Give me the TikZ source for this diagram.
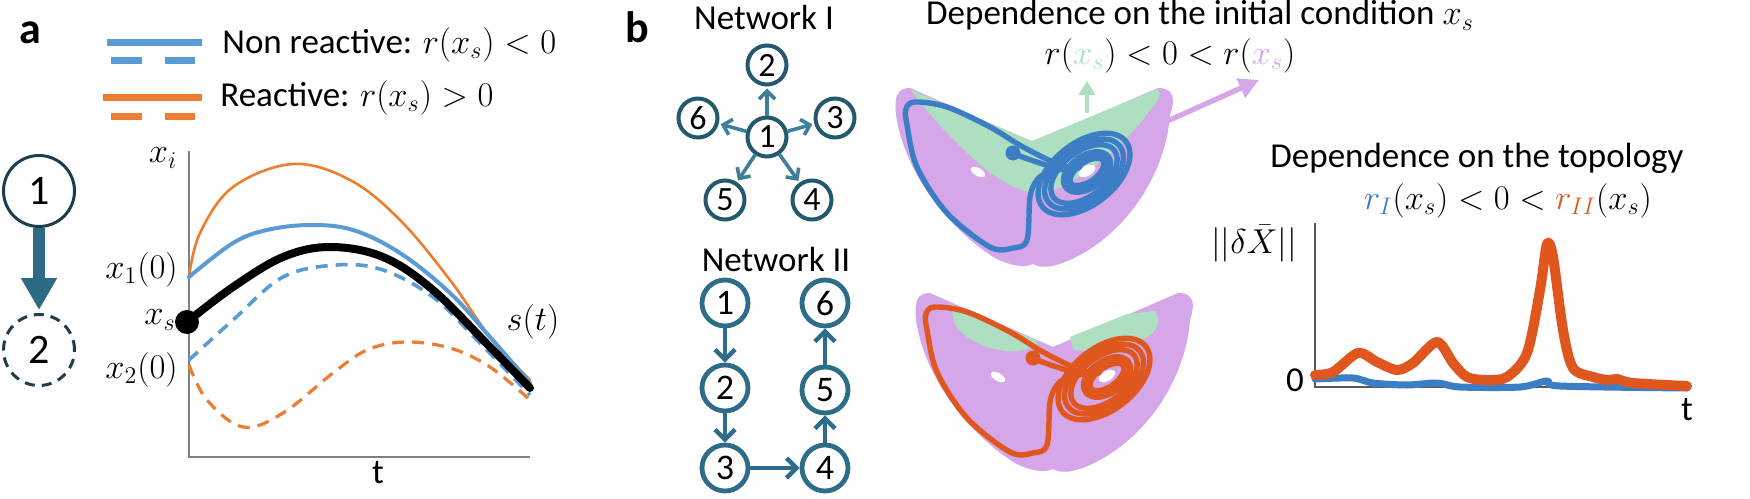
\documentclass[tikz,border=0pt]{standalone}
\usepackage{fontspec}
\setmainfont{Carlito}
\usetikzlibrary{arrows.meta}
\definecolor{legblue}{HTML}{5B9BD5}
\definecolor{legorange}{HTML}{ED7D31}
\definecolor{nodedark}{HTML}{1D3D4E}
\definecolor{arrowteal}{HTML}{2F6A84}
\definecolor{netIcol}{HTML}{23586E}
\definecolor{arIcol}{HTML}{3D7F99}
\definecolor{netIIcol}{HTML}{2D6D89}
\definecolor{lzpurple}{HTML}{D5A6E8}
\definecolor{lzgreen}{HTML}{ADDFC0}
\definecolor{trajblue}{HTML}{3B7EC6}
\definecolor{trajorange}{HTML}{E0561F}
\definecolor{axisgray}{HTML}{808080}
\newcommand{\lzPurple}{%
  \fill[lzpurple] (930,293) -- (1053,347) -- (1178,293) .. controls (1195,293) and (1195,305) .. (1190,320)
   .. controls (1185,385) and (1140,445) .. (1085,467) .. controls (1070,473) and (1060,473) .. (1053,469)
   .. controls (1045,473) and (1030,471) .. (1015,463) .. controls (970,435) and (925,380) .. (916,320)
   .. controls (914,300) and (918,293) .. (930,293) -- cycle;}
\newcommand{\lzHoleL}{%
  \fill[white, shift={(998,377)}, rotate=-30] (0,0) ellipse[x radius=8, y radius=4];}
\newcommand{\lzHoleR}{%
  \fill[white, shift={(1107,376)}, rotate=30] (0,0) ellipse[x radius=9, y radius=5];}
\newcommand{\lzTraj}{%
  \foreach \a/\b in {53/31,45.5/26.5,38.5/22} {\draw[shift={(1104,379)}, rotate=38] (0,0) ellipse[x radius=\a, y radius=\b];}
  \draw[line width=6pt, shift={(1107,377)}, rotate=35] (0,0) ellipse[x radius=23, y radius=13];
  \draw plot[smooth, tension=0.55] coordinates {(1100,373) (1080,370) (1043,352) (1010,332) (967,312) (935,307) (926,314) (927,330) (937,372) (967,418) (1010,452) (1033,453) (1047,445) (1050,402) (1057,385) (1067,378) (1088,373)};
  \draw plot[smooth, tension=0.5] coordinates {(1033,358) (1045,363) (1075,373)};
  \fill (1033,358) circle[radius=7.5];}
\begin{document}
\begin{tikzpicture}[x=0.5pt,y=-0.5pt,
  txt/.style={font=\fontsize{17.5}{20}\selectfont, inner sep=0},
  lbl/.style={font=\bfseries\fontsize{22}{24}\selectfont, inner sep=0},
  anode/.style={circle, draw=nodedark, line width=1.5pt, minimum size=35.5pt, inner sep=0, font=\fontsize{21}{24}\selectfont},
  netI/.style={circle, draw=netIcol, line width=2pt, minimum size=19.5pt, inner sep=0, font=\fontsize{17}{20}\selectfont},
  netII/.style={circle, draw=netIIcol, line width=2.4pt, minimum size=23pt, inner sep=0, font=\fontsize{18}{20}\selectfont},
  arI/.style={draw=arIcol, line width=1.8pt, -{Straight Barb[length=4pt,width=8pt]}, shorten >=1pt},
  arII/.style={draw=netIIcol, line width=2.2pt, -{Straight Barb[length=5pt,width=10pt]}},
  curve/.style={line cap=round, line join=round},
  traj/.style={line width=2.7pt, line cap=round, line join=round},
]
\useasboundingbox (0,0) rectangle (1750,498);
% ---------- panel a ----------
\node[lbl] (la) at (30,33) {a};
\draw[legblue, line width=3.5pt] (107,42) -- (202,42);
\draw[legblue, line width=3.5pt, dash pattern=on 15.5pt off 11.5pt] (111,60) -- (195,60);
\draw[legorange, line width=3.5pt] (103,97) -- (202,97);
\draw[legorange, line width=3.5pt, dash pattern=on 15.5pt off 11.5pt] (111,116) -- (195,116);
\node[txt, anchor=base west] (leg1) at (222,53) {Non reactive: $r(x_s)<0$};
\node[txt, anchor=base west] (leg2) at (220,106) {Reactive: $r(x_s)>0$};

\node[anode] (a1) at (39,191) {1};
\node[anode, dashed, dash pattern=on 5pt off 3.5pt] (a2) at (39,350) {2};
\draw[arrowteal, line width=6pt, -{Triangle[length=16pt,width=17pt]}, shorten >=1.5pt] (a1) -- (a2);

\coordinate (ax0) at (189,457);
\coordinate (axy) at (189,151);
\coordinate (axx) at (530,457);
\draw[axisgray, line width=0.6pt] (axy) -- (ax0) -- (axx);
\node[txt] (lxi) at (163,158) {$x_i$};
\node[txt, anchor=east] (lx1) at (178,270) {$x_1(0)$};
\node[txt, anchor=east] (lxs) at (176,320) {$x_s$};
\node[txt, anchor=east] (lx2) at (178,370) {$x_2(0)$};
\node[txt] (lt) at (378,473) {t};
\node[txt] (lst) at (533,322) {$s(t)$};

\draw[curve, legorange, line width=1.3pt] plot[smooth, tension=0.6] coordinates {(189,277) (200,233) (233,187) (293,164) (350,180) (400,220) (450,280) (490,337) (530,380)};
\draw[curve, legblue, line width=2pt] plot[smooth, tension=0.6] coordinates {(189,277) (233,243) (267,230) (310,225) (353,230) (400,253) (450,293) (490,337) (530,383)};
\draw[legblue, line width=1.8pt, dash pattern=on 6pt off 4pt] plot[smooth, tension=0.6] coordinates {(189,360) (233,320) (283,277) (337,265) (383,270) (433,297) (477,340) (530,395)};
\draw[legorange, line width=1.6pt, dash pattern=on 6pt off 4pt] plot[smooth, tension=0.6] coordinates {(189,365) (207,400) (243,427) (283,413) (333,373) (367,350) (405,342) (450,348) (490,367) (530,400)};
\draw[curve, black, line width=4pt] plot[smooth, tension=0.6] coordinates {(187,322) (233,287) (283,257) (330,247) (383,257) (433,290) (490,347) (530,388)};
\fill[black] (187,322) circle[radius=12];

% ---------- panel b ----------
\node[lbl] (lb) at (637,27) {b};
\node[txt] (tI) at (764,17) {Network I};
\node[netI] (i1) at (767,137) {1};
\node[netI] (i2) at (767,65) {2};
\node[netI] (i3) at (835,118) {3};
\node[netI] (i4) at (812,200) {4};
\node[netI] (i5) at (725,200) {5};
\node[netI] (i6) at (698,118) {6};
\foreach \t in {i2,i3,i4,i5,i6} {\draw[arI] (i1) -- (\t);}

\node[txt] (tII) at (776,259) {Network II};
\node[netII] (j1) at (725,303) {1};
\node[netII] (j2) at (725,388) {2};
\node[netII] (j3) at (725,468) {3};
\node[netII] (j4) at (825,468) {4};
\node[netII] (j5) at (825,390) {5};
\node[netII] (j6) at (825,303) {6};
\draw[arII] (j1) -- (j2);
\draw[arII] (j2) -- (j3);
\draw[arII] (j3) -- (j4);
\draw[arII] (j4) -- (j5);
\draw[arII] (j5) -- (j6);

% top attractor
\begin{scope}[shift={(-20,-205)}]
  \lzPurple
\end{scope}
\fill[lzgreen] (911,90) -- (1032,141) -- (1157,89) .. controls (1162,92) and (1160,100) .. (1150,110)
   .. controls (1130,140) and (1080,185) .. (1043,193) .. controls (1020,195) and (995,178) .. (975,160)
   .. controls (950,138) and (925,110) .. (911,90) -- cycle;
\begin{scope}[shift={(-20,-205)}]
  \lzHoleL
  \begin{scope}[draw=trajblue, fill=trajblue, traj]
    \lzTraj
  \end{scope}
  \lzHoleR
\end{scope}

% bottom attractor
\lzPurple
\fill[lzgreen] (952,305) -- (1038,341) .. controls (1036,350) and (1020,352) .. (1005,351)
   .. controls (980,348) and (958,335) .. (953,320) -- cycle;
\fill[lzgreen] (1070,337) -- (1127,314) -- (1155,311) .. controls (1161,318) and (1159,332) .. (1145,338)
   .. controls (1125,348) and (1095,352) .. (1073,350) -- cycle;
\lzHoleL
\begin{scope}[draw=trajorange, fill=trajorange, traj]
  \lzTraj
\end{scope}
\lzHoleR

\coordinate (gA) at (1087,113);
\coordinate (gB) at (1087,81);
\draw[lzgreen, line width=2.2pt, -{Triangle[length=7pt,width=8pt]}] (gA) -- (gB);
\coordinate (pA) at (1163,123);
\coordinate (pB) at (1259,80);
\draw[lzpurple, line width=2.6pt, -{Triangle[length=10pt,width=10pt]}] (pA) -- (pB);

\node[txt, anchor=base] (dep1) at (1200,25) {Dependence on the initial condition $x_s$};
\node[txt, anchor=base] (dep1m) at (1170,64) {$r(\textcolor{lzgreen}{x_s})<0<r(\textcolor{lzpurple}{x_s})$};
\node[txt, anchor=base] (dep2) at (1477,167) {Dependence on the topology};
\node[txt, anchor=base] (dep2m) at (1508,209) {$\textcolor{trajblue}{r_I}(x_s)<0<\textcolor{trajorange}{r_{II}}(x_s)$};

% right plot
\coordinate (bx0) at (1315,387);
\coordinate (bxy) at (1315,223);
\coordinate (bxx) at (1688,387);
\draw[axisgray!70!black, line width=0.6pt] (bxy) -- (bx0) -- (bxx);
\node[txt] (ldx) at (1254,244) {$||\delta\bar{X}||$};
\node[txt] (l0) at (1295,380) {0};
\node[txt] (lt2) at (1687,410) {t};
\draw[curve, trajblue, line width=3.5pt] plot[smooth, tension=0.5] coordinates {(1315,379) (1353,378) (1373,383) (1407,385) (1437,383) (1460,387) (1520,387) (1547,381) (1560,386) (1687,388)};
\draw[curve, trajorange, line width=5pt] plot[smooth, tension=0.5] coordinates {(1315,375) (1333,372) (1358,353) (1377,362) (1397,370) (1413,363) (1437,342) (1453,363) (1467,377) (1487,380) (1507,377) (1527,353) (1540,290) (1547,244) (1553,257) (1563,330) (1573,368) (1593,377) (1608,380) (1617,379) (1633,383) (1687,386)};
\end{tikzpicture}
\end{document}
